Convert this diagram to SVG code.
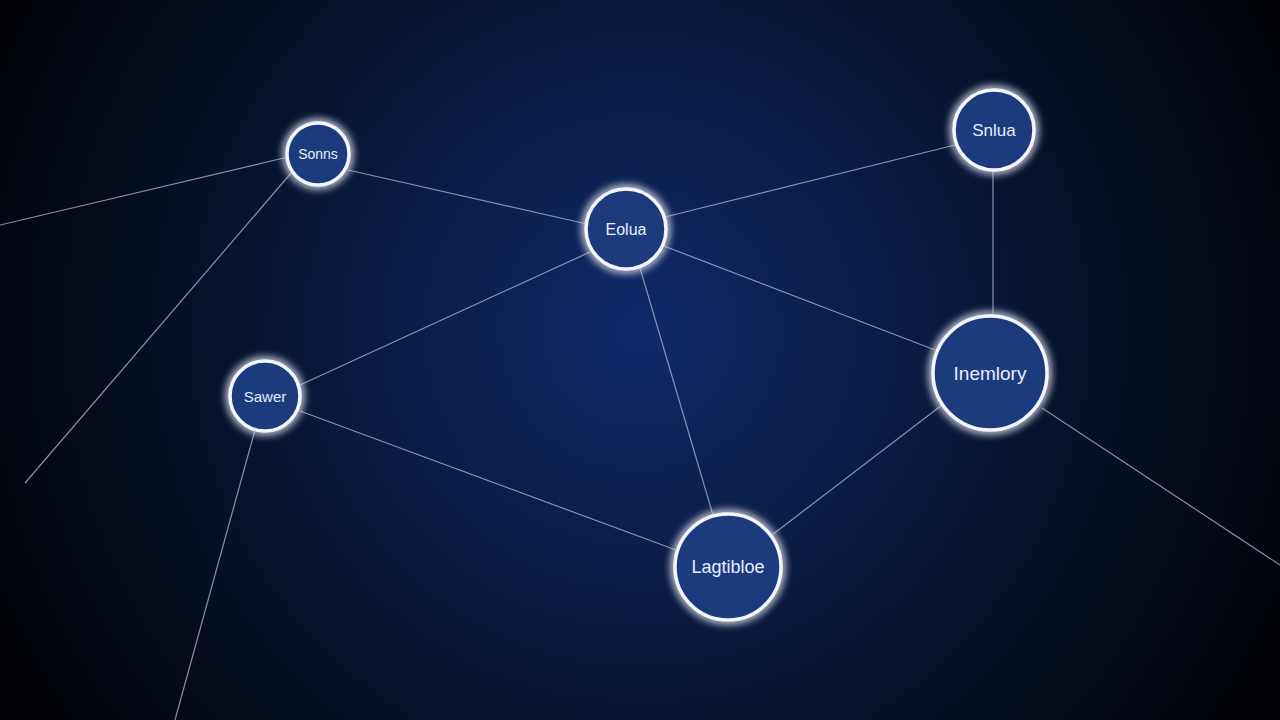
<svg xmlns="http://www.w3.org/2000/svg" width="1280" height="720" viewBox="0 0 1280 720">
<defs>
<radialGradient id="bg" cx="640" cy="330" r="700" gradientUnits="userSpaceOnUse">
<stop offset="0" stop-color="#10296a"/>
<stop offset="0.4" stop-color="#091b40"/>
<stop offset="1" stop-color="#010308"/>
</radialGradient>
<filter id="glow" x="-50%" y="-50%" width="200%" height="200%">
<feGaussianBlur in="SourceGraphic" stdDeviation="5" result="b"/>
<feMerge><feMergeNode in="b"/><feMergeNode in="b"/><feMergeNode in="SourceGraphic"/></feMerge>
</filter>
</defs>
<style>
.edge{stroke:#9aa8c6;stroke-width:1.2;fill:none;opacity:0.85}
.node circle{fill:#1f3a7c;stroke:#f4f6ff;stroke-width:3.5;filter:url(#glow)}
.node text{fill:#e8eeff;font-family:"Liberation Sans",Arial,sans-serif;text-anchor:middle;dominant-baseline:central}
</style>
<rect width="1280" height="720" fill="url(#bg)"/>
<g id="connectors">
<line class="edge" x1="0" y1="225" x2="288" y2="157"/>
<line class="edge" x1="292" y1="172" x2="25" y2="483"/>
<line class="edge" x1="348" y1="170" x2="587" y2="224"/>
<line class="edge" x1="665" y1="217" x2="955" y2="145"/>
<line class="edge" x1="993" y1="170" x2="993" y2="316"/>
<line class="edge" x1="664" y1="246" x2="935" y2="350"/>
<line class="edge" x1="590" y1="252" x2="300" y2="385"/>
<line class="edge" x1="640" y1="268" x2="713" y2="515"/>
<line class="edge" x1="300" y1="411" x2="676" y2="550"/>
<line class="edge" x1="942" y1="405" x2="772" y2="535"/>
<line class="edge" x1="1042" y1="408" x2="1280" y2="565"/>
<line class="edge" x1="255" y1="430" x2="175" y2="720"/>
</g>
<g id="node-sonns" class="node"><circle cx="318" cy="154" r="31"/><text x="318" y="154" font-size="14">Sonns</text></g>
<g id="node-eolua" class="node"><circle cx="626" cy="229" r="40"/><text x="626" y="229" font-size="16">Eolua</text></g>
<g id="node-snlua" class="node"><circle cx="994" cy="130" r="40"/><text x="994" y="130" font-size="17">Snlua</text></g>
<g id="node-inemlory" class="node"><circle cx="990" cy="373" r="57"/><text x="990" y="373" font-size="19">Inemlory</text></g>
<g id="node-sawer" class="node"><circle cx="265" cy="396" r="35"/><text x="265" y="396" font-size="15">Sawer</text></g>
<g id="node-lagtibloe" class="node"><circle cx="728" cy="567" r="53"/><text x="728" y="567" font-size="18">Lagtibloe</text></g>
</svg>
